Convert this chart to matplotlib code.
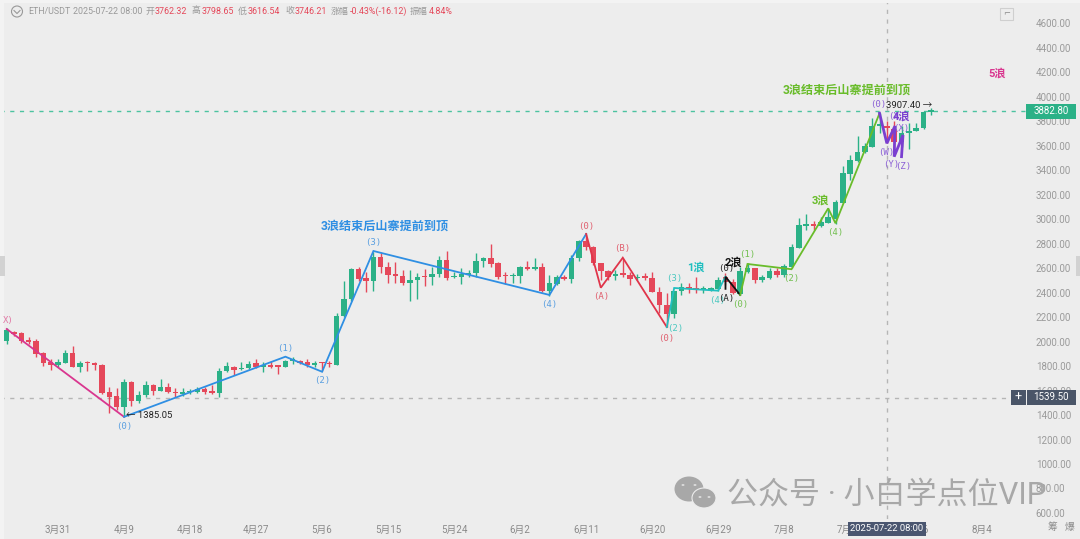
import matplotlib
matplotlib.use('Agg')
import matplotlib.pyplot as plt
from matplotlib.patches import Rectangle, Ellipse, Circle

FONT = ['Roboto', 'Noto Sans CJK SC', 'DejaVu Sans']
plt.rcParams['font.family'] = FONT

opens = [2007,2081,2073,2013,2005,1904,1836,1806,1828,1909,1790,1830,1825,1811,1585,1556,1469,1670,1517,1561,1645,1599,1626,1591,1575,1585,
 1591,1615,1591,1583,1757,1795,1773,1784,1822,1790,1803,1803,1795,1844,1844,1833,1809,1828,1825,1811,2209,2349,2590,2516,2492,2688,2611,2551,
 2538,2475,2499,2535,2524,2548,2665,2524,2529,2543,2562,2657,2684,2638,2540,2532,2535,2611,2589,2611,2412,2470,2527,2510,2685,2823,2774,2644,2578,2535,2551,2543,2516,2524,2521,2407,
 2295,2224,2409,2442,2434,2420,2420,2428,2530,2488,2390,2570,2597,2502,2515,2578,2542,2610,2766,2942,2959,2942,2970,3002,3133,3367,3473,3544,3590,3759,3762.32,3731,3630,3704,3721,3740,3873]
highs = [2108,2089,2081,2040,2018,1915,1855,1855,1931,1964,1844,1839,1833,1817,1632,1618,1692,1675,1596,1675,1654,1692,1659,1618,1618,1610,
 1632,1626,1645,1781,1836,1800,1833,1844,1855,1836,1844,1809,1848,1871,1850,1855,1839,1830,1844,2230,2492,2600,2611,2570,2734,2720,2649,2649,
 2584,2584,2557,2589,2611,2698,2739,2570,2597,2584,2720,2693,2793,2652,2570,2557,2617,2660,2679,2638,2543,2543,2543,2706,2829,2880,2780,2644,2584,2584,2671,2570,2551,2562,2570,2448,
 2393,2415,2480,2475,2524,2453,2442,2529,2558,2510,2606,2638,2602,2543,2597,2597,2632,2795,3005,3040,2981,3019,3087,3155,3432,3522,3677,3623,3821,3868,3798.65,3800,3760,3780,3786,3881,3907.4]
lows = [1980,2045,1986,1980,1871,1803,1768,1790,1822,1790,1754,1762,1768,1572,1420,1441,1385.05,1474,1501,1545,1566,1594,1577,1545,1556,1570,
 1583,1572,1572,1545,1752,1727,1768,1779,1781,1751,1784,1735,1790,1817,1817,1795,1790,1762,1790,1809,2198,2334,2492,2407,2415,2557,2481,2475,
 2461,2331,2350,2453,2461,2529,2502,2516,2470,2524,2524,2611,2611,2508,2470,2475,2480,2584,2584,2407,2372,2461,2502,2480,2657,2747,2625,2502,2502,2502,2529,2461,2502,2502,2407,2230,
 2115,2189,2379,2393,2398,2393,2415,2415,2460,2390,2379,2556,2474,2488,2507,2529,2529,2597,2760,2910,2910,2937,2964,2959,3127,3318,3462,3536,3585,3699,3616.54,3560,3590,3568,3715,3734,3850]
closes = [2094,2062,2007,1996,1898,1822,1809,1830,1909,1795,1825,1822,1809,1577,1545,1463,1670,1517,1566,1645,1599,1626,1588,1577,1588,1595,
 1613,1588,1583,1762,1798,1771,1784,1819,1790,1806,1795,1795,1841,1855,1822,1806,1822,1822,1814,2209,2345,2590,2508,2492,2688,2606,2546,2538,
 2475,2499,2529,2524,2548,2665,2521,2535,2551,2562,2660,2684,2633,2524,2532,2540,2611,2589,2611,2412,2475,2524,2510,2685,2820,2774,2644,2578,2524,2551,2543,2513,2529,2518,2407,2298,
 2224,2409,2442,2426,2426,2426,2434,2502,2488,2398,2578,2597,2502,2523,2578,2542,2619,2768,2951,2959,2942,2975,3013,3138,3372,3481,3549,3596,3759,3772,3746.21,3631,3704,3721,3740,3876,3882.8]

date_ticks = [7,16,25,34,43,52,61,70,79,88,97,106,115,124,133]
date_labels = ['3月31','4月9','4月18','4月27','5月6','5月15','5月24','6月2','6月11','6月20','6月29','7月8','7月17','7月26','8月4']
price_ticks = [600,800,1000,1200,1400,1600,1800,2000,2200,2400,2600,2800,3000,3200,3400,3600,3800,4000,4200,4400,4600]

pink_d,  pink_p  = [0,16], [2102,1385.05]
blue_d,  blue_p  = [16,38,43,50,74,79], [1385.05,1876,1753,2739,2380,2878]
red_d,   red_p   = [79,81,84,90], [2878,2439,2684,2118]
teal_d,  teal_p  = [90,91,97,98], [2118,2437,2415,2529]
black_d, black_p = [98,98,100], [2430,2529,2380]
green_d, green_p = [100,101,107,112,113,119], [2380,2633,2590,3087,2965,3863]
purple_d, purple_p = [119,120,121.1,121,122.2,122], [3863,3618,3759,3509,3686,3509]

last_price = 3882.80
cross_price = 1539.50
cross_day = 120

BG = '#EDEDED'
UP = '#2BB187'
DOWN = '#E5485A'

fig = plt.figure(figsize=(10.8, 5.39), dpi=100, facecolor=BG)
W, H = 1080, 539
ax = fig.add_axes([0, 1 - 519 / H, 1026 / W, 519 / H], facecolor=BG)
ax.set_xlim(-0.913, 138.97)
ax.set_ylim(551, 4788)
for s in ax.spines.values():
    s.set_visible(False)

days = list(range(len(opens)))
cols = [UP if c >= o else DOWN for o, c in zip(opens, closes)]
ax.vlines(days, lows, highs, colors=cols, lw=1.0, zorder=3)
ax.bar(days, [max(abs(c - o), 14) for o, c in zip(opens, closes)],
       bottom=[min(o, c) for o, c in zip(opens, closes)],
       width=0.74, color=cols, zorder=4, linewidth=0)

ax.axhline(last_price, color='#4CC3A0', lw=1, ls=(0, (3, 4)), zorder=2)
ax.axhline(cross_price, color='#B5B5B5', lw=1, ls=(0, (3, 4)), zorder=2)
ax.axvline(cross_day, color='#B5B5B5', lw=1, ls=(0, (3, 4)), zorder=2)

for d, p, c, lw in [(pink_d, pink_p, '#D9368F', 1.3), (blue_d, blue_p, '#2F8FE3', 1.3),
                    (red_d, red_p, '#E0344A', 1.3), (teal_d, teal_p, '#22BFC0', 1.3),
                    (black_d, black_p, '#111111', 1.3), (green_d, green_p, '#69BC2A', 1.3),
                    (purple_d, purple_p, '#7A3FD0', 2.0)]:
    ax.plot(d, p, color=c, lw=lw, zorder=6, solid_joinstyle='miter')

ax.set_xticks(date_ticks, date_labels)
ax.yaxis.tick_right()
ax.set_yticks(price_ticks, [f'{p:.2f}' for p in price_ticks])
ax.tick_params(axis='x', length=0, pad=4, labelsize=7, labelcolor='#8A8A8A')
ax.tick_params(axis='y', length=0, pad=7, labelsize=7, labelcolor='#9A9A9A')


def T(x, y, s, color='#333333', size=6.5, ha='center', family=None, weight='normal', z=10):
    fig.text(x / W, 1 - y / H, s, color=color, fontsize=size, ha=ha, va='center',
             family=family or FONT, weight=weight, zorder=z)


def R(x, y, w, h, color, z=8, **kw):
    fig.add_artist(Rectangle((x / W, 1 - (y + h) / H), w / W, h / H, transform=fig.transFigure,
                             facecolor=color, edgecolor=kw.get('ec', 'none'), lw=kw.get('lw', 0), zorder=z))


# header
for x, s, c in [(28, 'ETH/USDT', '#999999'), (73, '2025-07-22 08:00', '#999999'), (145, '开', '#999999'),
                (155, '3762.32', DOWN), (191, '高', '#999999'), (202, '3798.65', DOWN),
                (238, '低', '#999999'), (248, '3616.54', DOWN), (285, '收', '#999999'),
                (295, '3746.21', DOWN), (331, '涨幅', '#999999'), (350, '-0.43%(-16.12)', DOWN),
                (410, '振幅', '#999999'), (429, '4.84%', DOWN)]:
    T(x, 11, s, color=c, ha='left', size=6.4)
fig.add_artist(Ellipse((17 / W, 1 - 11.5 / H), 11 / W, 11 / H, transform=fig.transFigure,
                       facecolor='none', edgecolor='#999999', lw=0.8, zorder=8))
fig.add_artist(plt.Line2D([14 / W, 17 / W, 20 / W], [1 - 10.5 / H, 1 - 13.5 / H, 1 - 10.5 / H],
                          color='#999999', lw=0.8, zorder=8))
R(0, 0, W, 3, '#F3F3F3', z=1)
R(0, 0, 4, H, '#F3F3F3', z=1)
R(1000, 8, 13, 12, BG, z=8, ec='#CFCFCF', lw=0.8)
T(1006.5, 14, '⌐', color='#888888', size=6, family='DejaVu Sans')
R(0, 256, 5, 20, '#D2D2D2', z=8)
R(1076, 256, 4, 20, '#D2D2D2', z=8)

# wave labels
M = 'DejaVu Sans Mono'
for x, y, s, c in [(8, 320, 'X)', '#E27AA6'), (124, 426, '(0)', '#5A9FE0'), (285, 348, '(1)', '#5A9FE0'),
                   (322, 381, '(2)', '#5A9FE0'), (373, 242, '(3)', '#5A9FE0'), (549, 304, '(4)', '#5A9FE0'),
                   (586, 226, '(0)', '#E0606F'), (601, 297, '(A)', '#E0606F'), (622, 248, '(B)', '#E0606F'),
                   (666, 338, '(0)', '#E0606F'), (675, 328, '(2)', '#4CC8C0'), (674, 279, '(3)', '#4CC8C0'),
                   (717, 300, '(4)', '#4CC8C0'), (726, 269, '(0)', '#222222'), (726, 298, '(A)', '#222222'),
                   (740, 305, '(0)', '#72BF50'), (747, 255, '(1)', '#72BF50'), (791, 279, '(2)', '#72BF50'),
                   (835, 232, '(4)', '#72BF50'), (878, 104, '(0)', '#8A5FD5'), (893, 117, '(X', '#8A5FD5'),
                   (901, 128, '(X)', '#8A5FD5'), (886, 153, '(W)', '#8A5FD5'), (891, 165, '(Y)', '#8A5FD5'),
                   (903, 167, '(Z)', '#8A5FD5')]:
    T(x, y, s, color=c, size=6.5, family=M)

T(126, 416, '← 1385.05', color='#222222', ha='left', size=6.8)
T(886, 106, '3907.40 →', color='#222222', ha='left', size=6.8)

T(385, 226, '3浪结束后山寨提前到顶', color='#2F8FE3', size=8.7, weight='bold')
T(847, 90, '3浪结束后山寨提前到顶', color='#69BC2A', size=8.7, weight='bold')
T(997, 73, '5浪', color='#D9368F', size=8, weight='bold')
T(901, 116, '4浪', color='#7A3FD0', size=8, weight='bold')
T(820, 200, '3浪', color='#69BC2A', size=8, weight='bold')
T(733, 262, '2浪', color='#111111', size=8, weight='bold')
T(696, 267, '1浪', color='#22BFC0', size=8, weight='bold')

# price tags
R(1026, 104, 50, 15, UP, z=9)
T(1051, 111.5, '3882.80', color='white', size=7)
R(1011, 390, 15, 15, '#4A5568', z=9)
T(1018.5, 397, '+', color='white', size=9)
R(1027, 390, 49, 15, '#4A5568', z=9)
T(1051, 397.5, '1539.50', color='white', size=7)
R(848, 522, 78, 14, '#4A5670', z=9)
T(887, 528.5, '2025-07-22 08:00', color='white', size=6.8)
T(1052, 527, '筹', color='#8A8A8A', size=7)
T(1070, 527, '爆', color='#8A8A8A', size=7)

# watermark
wm = '#A8A8A8'
T(727, 495, '公众号 · 小白学点位VIP', color=wm, size=22.3, ha='left', z=11)
fig.add_artist(Ellipse((689 / W, 1 - 489 / H), 29 / W, 25 / H, transform=fig.transFigure, facecolor=wm, lw=0, zorder=11))
fig.add_artist(Ellipse((704 / W, 1 - 498 / H), 24 / W, 20 / H, transform=fig.transFigure, facecolor=wm, edgecolor=BG, lw=0.8, zorder=12))
for cx, cy, col in [(683, 485, BG), (695, 485, BG), (700, 497, BG), (709, 497, BG)]:
    fig.add_artist(Circle((cx / W, 1 - cy / H), 1.5 / W, transform=fig.transFigure, facecolor=col, lw=0, zorder=13))

fig.savefig('out.png', dpi=100, facecolor=BG)
